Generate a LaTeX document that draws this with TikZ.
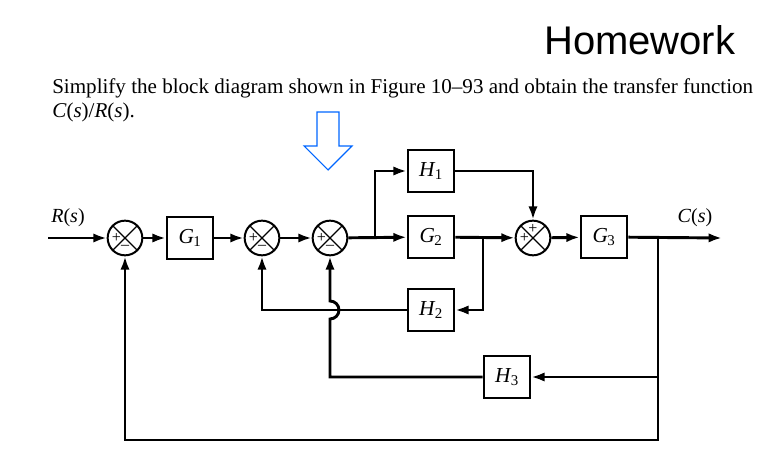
\documentclass[tikz,border=0pt]{standalone}
\usepackage{fontspec}
\setmainfont{Liberation Serif}
\newfontfamily\hwfont{Liberation Sans}
\usetikzlibrary{arrows.meta}
\newcommand{\lb}[2]{\textit{#1}\textsubscript{\kern-0.5pt#2}}
\begin{document}
\begin{tikzpicture}[x=0.75pt,y=-0.75pt,
  blk/.style={draw,line width=1.4pt,minimum width=35pt,minimum height=31pt,inner sep=0pt,font=\fontsize{16}{18}\selectfont},
  sum/.style={draw,circle,line width=1.5pt,minimum size=26pt,inner sep=0pt,
     path picture={\draw[line width=0.9pt] (path picture bounding box.north west)--(path picture bounding box.south east)
        (path picture bounding box.north east)--(path picture bounding box.south west);}},
  sgn/.style={font=\fontsize{12}{12}\selectfont,inner sep=0pt},
  w/.style={line width=2.2pt},
  a/.style={w,-{Latex[length=10pt,width=7pt]}}]
\useasboundingbox (0,0) rectangle (776,452);
\node[anchor=east,font=\hwfont\fontsize{30}{32}\selectfont] (hw) at (740,40) {Homework};
\node[anchor=west,inner sep=0pt,font=\fontsize{15.8}{18}\selectfont,align=left] (txt) at (52,100)
  {Simplify the block diagram shown in Figure 10–93 and obtain the transfer function\\ \textit{C}(\textit{s})/\textit{R}(\textit{s}).};
\draw[draw=blue!60!cyan,line width=0.8pt,fill=white] (317,112)--(339,112)--(339,146)--(352,146)--(328,170)--(304,146)--(317,146)--cycle;
\coordinate (in) at (48,238);
\node[sum] (s1) at (125,238) {};
\node[blk] (g1) at (190,238) {\lb{G}{1}};
\node[sum] (s2) at (262,238) {};
\node[sum] (s3) at (330,238) {};
\node[blk] (h1) at (431,171) {\lb{H}{1}};
\node[blk] (g2) at (431,237) {\lb{G}{2}};
\node[blk] (h2) at (431,310) {\lb{H}{2}};
\node[sum] (s4) at (533,238) {};
\node[blk] (g3) at (604,237) {\lb{G}{3}};
\node[blk] (h3) at (507,377) {\lb{H}{3}};
\coordinate (out) at (722,238);
\coordinate (b1) at (375,238);
\coordinate (b2) at (483,238);
\coordinate (b3) at (658,238);
\foreach \s in {s1,s2,s3,s4}{\node[sgn] at ([xshift=-6.5pt]\s.center) {+};}
\foreach \s in {s1,s2,s3}{\node[sgn] at ([yshift=-7pt]\s.center) {–};}
\node[sgn] at ([yshift=6.5pt]s4.center) {+};
\node[font=\fontsize{15}{17}\selectfont] (rl) at (68,218) {\textit{R}(\textit{s})};
\node[font=\fontsize{15}{17}\selectfont] (cl) at (695,218) {\textit{C}(\textit{s})};
\draw[a] (in)--(s1);
\draw[a] (s1)--(g1);
\draw[a] (g1)--(s2);
\draw[a] (s2)--(s3);
\draw[a] (s3)--(g2);
\draw[a] (b1)|-(h1);
\draw[a] (h1.east)-|(s4);
\draw[a] (g2)--(s4);
\draw[a] (b2)|-(h2);
\draw[a] (s4)--(g3);
\draw[a] (g3)--(out);
\draw[a] (b3)|-(h3);
\draw[a] (h2.west)-|(s2);
\draw[a] (h3.west)-|(330,319) arc[start angle=-90,end angle=90,radius=6.75pt] -- (s3);
\draw[a] (b3)--(658,440)-|(s1);
\end{tikzpicture}
\end{document}
